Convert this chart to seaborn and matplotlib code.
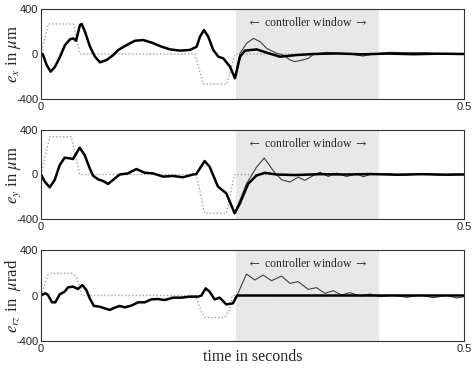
import numpy as np
import matplotlib
matplotlib.use("Agg")
import matplotlib.pyplot as plt
import seaborn as sns

# e_x panel: measured, alternative controller, reference trajectory
ex_t = [0, 0.002, 0.0067, 0.0114, 0.0166, 0.0225, 0.0284, 0.0343, 0.0382, 0.0414, 0.0461,
        0.0481, 0.052, 0.0579, 0.0638, 0.0697, 0.0776, 0.0855, 0.0914, 0.1013, 0.1111, 0.121,
        0.1308, 0.1426, 0.1525, 0.1643, 0.1761, 0.184, 0.1879, 0.1927, 0.1977, 0.2036, 0.2096,
        0.2155, 0.2234, 0.2293, 0.2352, 0.2411, 0.255, 0.2668, 0.2825, 0.3022, 0.322, 0.35,
        0.38, 0.41, 0.44, 0.47, 0.5]
ex_v = [0, 0, -98, -157, -113, -24, 80, 130, 139, 118, 258, 267, 198, 65, -24, -74, -53, -9,
        36, 80, 118, 124, 101, 65, 41, 30, 36, 65, 154, 213, 154, 36, -24, -39, -113, -216,
        -24, 30, 41, 12, -24, -9, 0, 5, -3, 4, -2, 3, 0]
ex_alt_t = [0.2293, 0.2352, 0.2431, 0.251, 0.2589, 0.2668, 0.2786, 0.2865, 0.2943, 0.3002,
            0.3081, 0.3161, 0.322, 0.3377, 0.3495, 0.365, 0.381, 0.3928, 0.4125, 0.4283,
            0.456, 0.47, 0.485, 0.5]
ex_alt_v = [-216, 6, 95, 139, 110, 50, 6, -9, -53, -68, -55, -39, -3, 15, 6, 0, -18, 0, 15,
            12, 12, 0, 4, 0]
ex_ref_t = [0, 0.0087, 0.0382, 0.0461, 0.182, 0.1918, 0.2194, 0.2293, 0.5]
ex_ref_v = [0, 267, 267, 0, 0, -267, -267, 0, 0]

# e_y panel
ey_t = [0, 0.0044, 0.0103, 0.0162, 0.0221, 0.028, 0.0339, 0.0378, 0.0406, 0.0457, 0.0516,
        0.0576, 0.0615, 0.0674, 0.0733, 0.0792, 0.0851, 0.093, 0.1028, 0.1127, 0.1226,
        0.1324, 0.1442, 0.156, 0.1678, 0.1797, 0.1836, 0.1934, 0.1993, 0.2092, 0.219,
        0.2289, 0.235, 0.2449, 0.2547, 0.2646, 0.2784, 0.30, 0.33, 0.36, 0.39, 0.42, 0.45,
        0.48, 0.5]
ey_v = [0, -64, -115, -49, 85, 151, 145, 139, 175, 241, 175, 55, -10, -43, -58, -85, -49, 0,
        10, 49, 16, 10, -19, -13, -25, 0, 4, 121, 70, -109, -169, -349, -261, -83, -9, 15, 0,
        -5, 3, 0, 4, -2, 3, -2, 0]
ey_alt_t = [0.2289, 0.2429, 0.2547, 0.2638, 0.2744, 0.2843, 0.2942, 0.304, 0.3119, 0.3218,
            0.3297, 0.3395, 0.3494, 0.3612, 0.373, 0.381, 0.3888, 0.41, 0.43, 0.45, 0.47,
            0.49, 0.5]
ey_alt_v = [-349, -83, 65, 148, 36, -47, -68, -24, -53, -9, 21, -18, 12, -18, 6, -20, 0, 8,
            -6, 7, -5, 6, 0]
ey_ref_t = [0, 0.0103, 0.0359, 0.0457, 0.1836, 0.1934, 0.219, 0.2289, 0.5]
ey_ref_v = [0, 339, 339, 0, 0, -349, -349, 0, 0]

# e_rz panel
erz_t = [0, 0.0051, 0.0083, 0.013, 0.0169, 0.0221, 0.028, 0.0319, 0.0378, 0.0437, 0.0488,
         0.0536, 0.0576, 0.0626, 0.0693, 0.0753, 0.0812, 0.0871, 0.093, 0.0989, 0.1068,
         0.1147, 0.1226, 0.1304, 0.1383, 0.1462, 0.156, 0.1658, 0.1757, 0.1856, 0.1895,
         0.1947, 0.1993, 0.2052, 0.2112, 0.219, 0.2269, 0.2317, 0.30, 0.40, 0.5]
erz_v = [0, 20, 4, -60, -60, 10, 34, 72, 78, 57, 92, 48, -25, -92, -98, -113, -127, -107, -92,
         -104, -89, -60, -60, -34, -31, -40, -19, -19, -10, -10, -1, 63, 34, -34, -19, -78,
         -69, 0, 0, 0, 0]
erz_alt_t = [0.2317, 0.2429, 0.2528, 0.2626, 0.2725, 0.2843, 0.2942, 0.304, 0.3158, 0.3257,
             0.3356, 0.3454, 0.3553, 0.3651, 0.377, 0.3888, 0.4006, 0.4164, 0.4322, 0.4479,
             0.4637, 0.4795, 0.4913, 0.5]
erz_alt_v = [0, 189, 136, 180, 130, 171, 107, 122, 54, 69, 19, 42, 4, 25, -4, 13, -10, 4,
             -16, 4, -19, 1, -22, -10]
erz_ref_t = [0, 0.0083, 0.0122, 0.0359, 0.0417, 0.0457, 0.048, 0.1824, 0.1895, 0.1934,
             0.2171, 0.223, 0.2261, 0.5]
erz_ref_v = [0, 181, 195, 195, 166, 78, 0, 0, -142, -193, -193, -127, 0, 0]

ylabels = [r"$e_x$ in $\mu$m", r"$e_y$ in $\mu$m", r"$e_{rz}$ in  $\mu$rad"]
window = (0.2305, 0.3995)
window_text = r"$\leftarrow$ controller window $\rightarrow$"

sns.set_style("white")
plt.rcParams['font.family'] = ['Liberation Serif', 'DejaVu Serif']
plt.rcParams['mathtext.fontset'] = 'stix'

fig = plt.figure(figsize=(4.74, 3.69), dpi=100)
W, H = 474.0, 369.0
boxes = [(9, 99), (130, 219), (250, 341)]
panels = [
    (ex_t, ex_v, ex_alt_t, ex_alt_v, ex_ref_t, ex_ref_v),
    (ey_t, ey_v, ey_alt_t, ey_alt_v, ey_ref_t, ey_ref_v),
    (erz_t, erz_v, erz_alt_t, erz_alt_v, erz_ref_t, erz_ref_v),
]

for i, ((top, bot), (t, v, at, av, rt, rv)) in enumerate(zip(boxes, panels)):
    ax = fig.add_axes([41 / W, 1 - bot / H, 423 / W, (bot - top) / H])
    ax.axvspan(window[0], window[1], color='#e8e8e8', lw=0, zorder=0)
    sns.lineplot(x=rt, y=rv, ax=ax, color='#a0a0a0', lw=1.0, linestyle=(0, (1, 1.5)), sort=False)
    sns.lineplot(x=at, y=av, ax=ax, color='#404040', lw=0.8, sort=False)
    sns.lineplot(x=t, y=v, ax=ax, color='black', lw=1.8, sort=False)
    ax.text(sum(window) / 2, 0.85, window_text, transform=ax.get_xaxis_transform(),
            ha='center', va='center', fontsize=8.5)
    ax.set_xlim(0, 0.5)
    ax.set_ylim(-400, 400)
    ax.set_xticks([0, 0.5])
    ax.set_xticklabels(['0', '0.5'])
    ax.set_yticks([-400, 0, 400])
    ax.set_yticklabels(['-400', '0', '400'])
    ax.tick_params(length=0, pad=2, labelsize=8, labelcolor='#222222')
    for lab in ax.get_xticklabels() + ax.get_yticklabels():
        lab.set_family('Liberation Sans')
    for sp in ax.spines.values():
        sp.set_visible(True)
        sp.set_color('#333333')
        sp.set_linewidth(0.8)
    ax.set_ylabel(ylabels[i], fontsize=12)
    ax.yaxis.set_label_coords(-0.043, 0.5)
    ax.set_xlabel('')

fig.text(252.5 / W, 1 - 357 / H, 'time in seconds', ha='center', va='center', fontsize=11.5)

fig.savefig('out.png', dpi=100)
